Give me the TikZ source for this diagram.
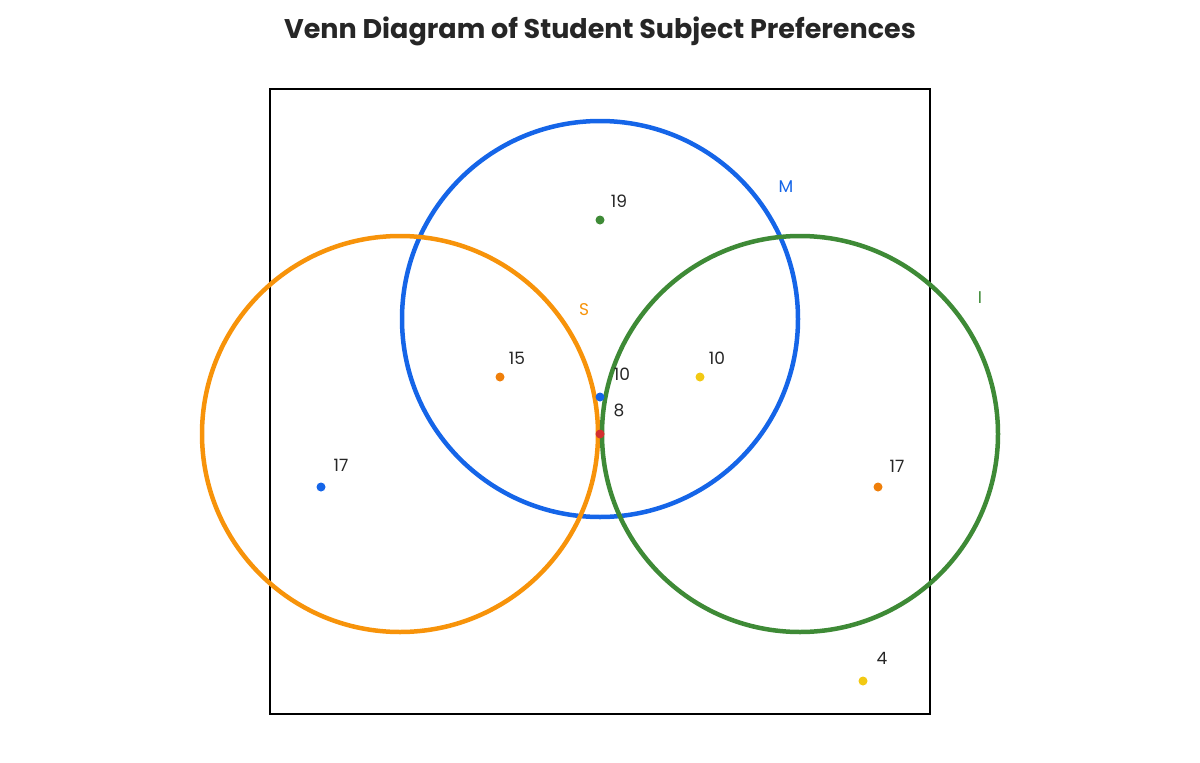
\documentclass[tikz,border=0pt]{standalone}
\usepackage{fontspec}
\setmainfont{Poppins}
\definecolor{setM}{HTML}{1565E8}
\definecolor{setS}{HTML}{F7930A}
\definecolor{setI}{HTML}{3E8A36}
\definecolor{dotY}{HTML}{F2C913}
\definecolor{dotR}{HTML}{D32F2F}
\definecolor{dotO}{HTML}{EF7F0A}
\tikzset{
  setring/.style = {line width=4.5pt}, % circle outline
  pt/.style = {circle, fill=#1, inner sep=0pt, minimum size=9pt},
  num/.style = {font=\fontsize{17}{17}\selectfont, text=black!85, anchor=center},
  setlbl/.style = {font=\fontsize{17}{17}\selectfont, text=#1}
}
\begin{document}
\begin{tikzpicture}[x=1pt, y=-1pt]
	\useasboundingbox (0,0) rectangle (1200,763);
	
	\node[font=\bfseries\fontsize{27}{27}\selectfont, text=black!85] (title) at (600,31) {Venn Diagram of Student Subject Preferences};
	\draw[line width=2.2pt] (270,89) rectangle (930,714);
	
	% sets
	\draw[setring, setM] (600,319) circle (198);
	\draw[setring, setS] (400,434) circle (198);
	\draw[setring, setI] (800,434) circle (198);
	
	\node[setlbl=setM] (lm) at (786,187) {M};
	\node[setlbl=setS] (ls) at (584,310) {S};
	\node[setlbl=setI] (li) at (980,298) {I};
	
	% regions
	\node[pt=setI] (p1) at (600,220) {};
	\node[num] at (619,201) {19};
	\node[pt=dotO] (p2) at (500,377) {};
	\node[num] at (517,358) {15};
	\node[pt=setM] (p3) at (600,397) {};
	\node[num] at (622,374) {10};
	\node[pt=dotY] (p4) at (700,377) {};
	\node[num] at (717,358) {10};
	\node[pt=dotR] (p5) at (600,434) {};
	\node[num] at (619,410) {8};
	\node[pt=setM] (p6) at (321,487) {};
	\node[num] at (341,465) {17};
	\node[pt=dotO] (p7) at (878,487) {};
	\node[num] at (897,466) {17};
	\node[pt=dotY] (p8) at (863,681) {};
	\node[num] at (882,658) {4};
	
\end{tikzpicture}
\end{document}
